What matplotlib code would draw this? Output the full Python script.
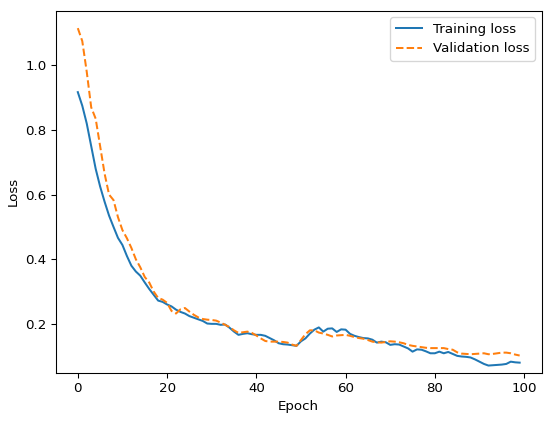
import matplotlib
matplotlib.use("Agg")
import matplotlib.pyplot as plt
import numpy as np

# loss per epoch
train_loss = [
    0.917, 0.875, 0.820, 0.750, 0.680, 0.625, 0.578, 0.535, 0.500, 0.466,
    0.444, 0.410, 0.380, 0.362, 0.349, 0.328, 0.308, 0.290, 0.272, 0.268,
    0.260, 0.254, 0.244, 0.237, 0.232, 0.224, 0.219, 0.214, 0.209, 0.201,
    0.200, 0.200, 0.197, 0.198, 0.188, 0.176, 0.166, 0.169, 0.171, 0.168,
    0.166, 0.166, 0.163, 0.156, 0.149, 0.140, 0.137, 0.136, 0.134, 0.132,
    0.146, 0.155, 0.170, 0.182, 0.189, 0.176, 0.185, 0.186, 0.175, 0.183,
    0.182, 0.169, 0.163, 0.159, 0.156, 0.155, 0.151, 0.142, 0.145, 0.143,
    0.135, 0.137, 0.136, 0.130, 0.124, 0.114, 0.121, 0.120, 0.115, 0.109,
    0.109, 0.114, 0.109, 0.113, 0.107, 0.101, 0.099, 0.098, 0.096, 0.090,
    0.083, 0.076, 0.071, 0.072, 0.073, 0.074, 0.076, 0.083, 0.081, 0.080,
]
val_loss = [
    1.115, 1.075, 0.980, 0.870, 0.835, 0.750, 0.665, 0.600, 0.583, 0.530,
    0.490, 0.465, 0.435, 0.400, 0.375, 0.345, 0.328, 0.300, 0.280, 0.275,
    0.265, 0.240, 0.232, 0.245, 0.249, 0.238, 0.228, 0.220, 0.215, 0.213,
    0.212, 0.210, 0.204, 0.197, 0.190, 0.180, 0.172, 0.174, 0.176, 0.172,
    0.164, 0.155, 0.147, 0.145, 0.145, 0.145, 0.144, 0.142, 0.136, 0.132,
    0.150, 0.168, 0.180, 0.180, 0.173, 0.170, 0.166, 0.161, 0.164, 0.165,
    0.166, 0.163, 0.159, 0.156, 0.154, 0.150, 0.145, 0.143, 0.142, 0.144,
    0.146, 0.145, 0.143, 0.140, 0.135, 0.132, 0.130, 0.128, 0.126, 0.125,
    0.125, 0.125, 0.125, 0.122, 0.120, 0.112, 0.108, 0.107, 0.106, 0.107,
    0.108, 0.109, 0.106, 0.107, 0.109, 0.111, 0.111, 0.109, 0.105, 0.102,
]
epochs = np.arange(len(train_loss))

DPI = 96.5
fig = plt.figure(figsize=(550 / DPI, 421 / DPI), dpi=DPI)
ax = fig.add_axes([0.1013, 0.1152, 0.8837, 0.8594])

ax.plot(epochs, train_loss, label='Training loss')
ax.plot(epochs, val_loss, '--', label='Validation loss')

ax.set_ylim(0.0495, 1.169)
ax.set_xlabel('Epoch')
ax.set_ylabel('Loss')
ax.legend()

fig.savefig("out.png")
